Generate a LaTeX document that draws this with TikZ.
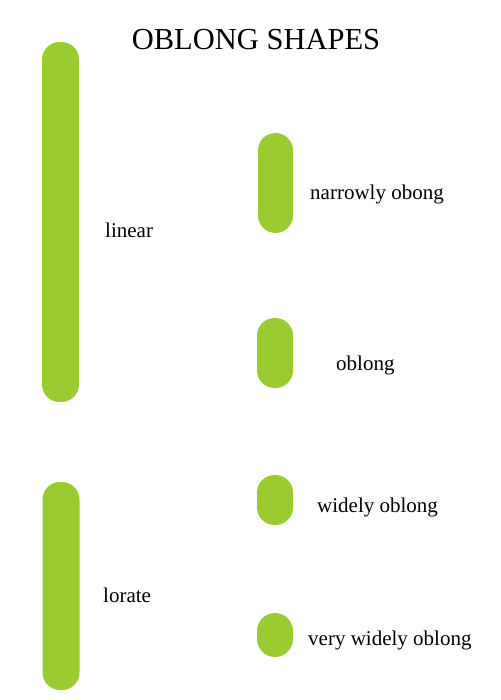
\documentclass[tikz,border=0pt]{standalone}
\usepackage{fontspec}
\setmainfont{Liberation Serif}
\usepackage{tikz}
\usetikzlibrary{positioning}

\definecolor{leafgreen}{RGB}{154,204,50}

\tikzset{
  blade/.style={fill=leafgreen, draw=none, inner sep=0pt, rounded corners=17.5pt, minimum width=36pt},
  shapelabel/.style={anchor=base west, inner sep=0pt, font=\fontsize{21}{25}\selectfont}
}

\begin{document}
\begin{tikzpicture}[x=1pt, y=-1pt]
    \useasboundingbox (0,0) rectangle (500,700);
    \node[anchor=base, inner sep=0pt, font=\fontsize{30.5}{35}\selectfont] (title) at (256,50) {OBLONG SHAPES};
    % left column
    \node[blade, minimum width=37pt, minimum height=360pt] (linear) at (60.5,222) {};
    \node[blade, minimum width=37pt, minimum height=208pt] (lorate) at (61,586) {};
    \node[shapelabel] (Llinear) at (105,238) {linear};
    \node[shapelabel] (Llorate) at (103,602) {lorate};
    % right column
    \node[blade, minimum width=35pt, minimum height=100pt] (narrow) at (275.5,183) {};
    \node[blade, minimum height=70pt] (oblong) at (275,353) {};
    \node[blade, minimum height=50pt] (wide) at (275,500) {};
    \node[blade, rounded corners=18pt, minimum height=44pt] (verywide) at (275,635) {};
    \node[shapelabel] (Lnarrow) at (310,200) {narrowly obong};
    \node[shapelabel] (Loblong) at (336,370) {oblong};
    \node[shapelabel] (Lwide) at (317,512) {widely oblong};
    \node[shapelabel] (Lverywide) at (308,645) {very widely oblong};
\end{tikzpicture}
\end{document}
